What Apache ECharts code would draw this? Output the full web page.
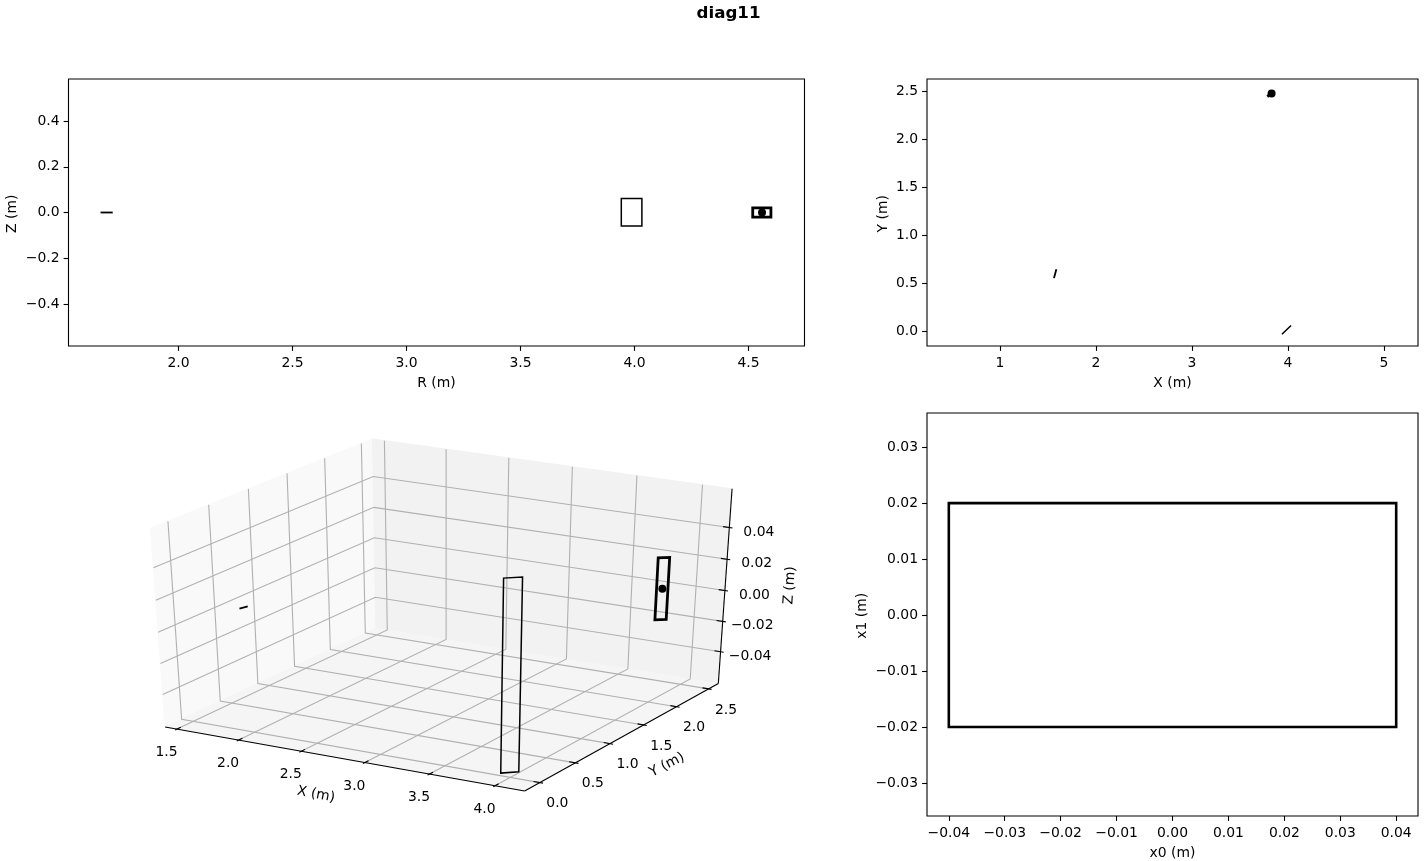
<!DOCTYPE html>
<html><head><meta charset="utf-8">
<style>html,body{margin:0;padding:0;background:#fff}#c{width:1428px;height:861px}</style>
<script src="https://cdn.jsdelivr.net/npm/echarts@6/dist/echarts.min.js"></script>
</head><body><div id="c"></div>
<script>
// ---------- data (metres) ----------
const titleText = 'diag11';
const apertureX = [3.942, 4.032, 4.032, 3.942, 3.942];
const apertureY = [-0.028, 0.057, 0.057, -0.028, -0.028];
const apertureZ = [-0.0587, -0.0587, 0.0613, 0.0613, -0.0587];
const detectorX = [3.796, 3.860, 3.860, 3.796, 3.796];
const detectorY = [2.451, 2.499, 2.499, 2.451, 2.451];
const detectorZ = [-0.02, -0.02, 0.02, 0.02, -0.02];
const detectorCentre = [3.829, 2.475, 0];
const stubX = [1.565, 1.585];
const stubY = [0.56, 0.635];
const stubZ = [0, 0];
const localX0 = [-0.04, 0.04, 0.04, -0.04, -0.04];
const localX1 = [-0.02, -0.02, 0.02, 0.02, -0.02];
// ticks
const rTicks = [2.0, 2.5, 3.0, 3.5, 4.0, 4.5];
const zTicks2d = [-0.4, -0.2, 0.0, 0.2, 0.4];
const xyXTicks = [1, 2, 3, 4, 5];
const xyYTicks = [0.0, 0.5, 1.0, 1.5, 2.0, 2.5];
const x0Ticks = [-0.04, -0.03, -0.02, -0.01, 0.0, 0.01, 0.02, 0.03, 0.04];
const x1Ticks = [-0.03, -0.02, -0.01, 0.0, 0.01, 0.02, 0.03];
const x3dTicks = [1.5, 2.0, 2.5, 3.0, 3.5, 4.0];
const y3dTicks = [0.0, 0.5, 1.0, 1.5, 2.0, 2.5];
const z3dTicks = [-0.04, -0.02, 0.0, 0.02, 0.04];
// axis limits
const rLim = [1.5175, 4.7456], zLim2d = [-0.584, 0.584];
const xyXLim = [0.24, 5.354], xyYLim = [-0.156, 2.625];
const x0Lim = [-0.0439, 0.0439], x1Lim = [-0.0359, 0.0361];
const xLim3 = [1.403, 4.223], yLim3 = [-0.21, 2.655], zLim3 = [-0.0613, 0.0639];

// ---------- 3D view: elev 30, azim -60, dist 10, unit cube stretched to the axes ----------
const U = [0.8660254, 0.5, 0], V = [-0.25, 0.4330127, 0.8660254], W = [0.4330127, -0.75, 0.5];
const SX = 4150, SY = 2270, CX = 446, CY = 609;
function proj(x, y, z) {
  const d = [(x - xLim3[0]) / (xLim3[1] - xLim3[0]) - .5,
             (y - yLim3[0]) / (yLim3[1] - yLim3[0]) - .5,
             (z - zLim3[0]) / (zLim3[1] - zLim3[0]) - .5];
  const dot = a => a[0] * d[0] + a[1] * d[1] + a[2] * d[2];
  const den = 10 - dot(W);
  return [CX + SX * dot(U) / den, CY - SY * dot(V) / den];
}
const [x0, x1] = xLim3, [y0, y1] = yLim3, [z0, z1] = zLim3;
const minus = s => s.replace('-', '\u2212');
const fmt = n => v => minus(Number(v).toFixed(n));
const FONT = 'DejaVu Sans', FS = 13.9;
const zip3 = (a, b, c) => a.map((v, i) => proj(v, b[i], c[i]));
const rOf = (a, b) => a.map((v, i) => Math.hypot(v, b[i]));
const pairs = (a, b) => a.map((v, i) => [v, b[i]]);

function xAxis(gridIndex, lim, ticks, digits, name, gap, margin) {
  return { type: 'value', gridIndex, min: lim[0], max: lim[1], name, nameLocation: 'middle', nameGap: gap,
    nameMoveOverlap: false, nameTextStyle: { color: '#000', fontFamily: FONT, fontSize: FS },
    splitLine: { show: false }, axisLine: { show: false, onZero: false },
    axisTick: { show: true, customValues: ticks, length: 4.9, lineStyle: { color: '#000', width: 1.1 } },
    axisLabel: { customValues: ticks, formatter: fmt(digits), color: '#000', fontFamily: FONT, fontSize: FS, margin: margin || 10 } };
}
function yAxis(gridIndex, lim, ticks, digits, name, gap) {
  const a = xAxis(gridIndex, lim, ticks, digits, name, gap, 9);
  a.nameRotate = 90;
  a.nameTextStyle.padding = [0, 2.5, 0, 0];
  a.axisLabel.padding = [2, 0, 0, 0];
  return a;
}
const lineS = (i, data, width) => ({ type: 'line', xAxisIndex: i, yAxisIndex: i, data, showSymbol: false, symbol: 'none',
  lineStyle: { color: '#000', width, join: 'miter', cap: 'square' }, silent: true, clip: true, z: 5 });
const dotS = (i, p) => ({ type: 'scatter', xAxisIndex: i, yAxisIndex: i, data: [p], symbolSize: 8, itemStyle: { color: '#000', opacity: 1 }, silent: true, z: 6 });

// custom series in the page-sized hidden grid (index 3)
function shapes(name, list, kind, style, z) {
  return { type: 'custom', name, xAxisIndex: 3, yAxisIndex: 3, coordinateSystem: 'cartesian2d', silent: true, z, clip: false,
    data: list.map((_, i) => [i, 0]),
    renderItem: (p, api) => ({ type: kind,
      shape: { points: list[api.value(0)].map(q => api.coord(q)) }, style }) };
}
function texts(name, list, z) {
  return { type: 'custom', name, xAxisIndex: 3, yAxisIndex: 3, silent: true, z: z || 8, clip: false,
    data: list.map((_, i) => [i, 0]),
    renderItem: (p, api) => { const t = list[api.value(0)], c = api.coord([t.x, t.y]);
      return { type: 'text', x: c[0], y: c[1], rotation: (t.rot || 0) * Math.PI / 180,
        style: { text: t.s, fill: '#000', font: FS + 'px "' + FONT + '"', align: 'center', verticalAlign: 'middle' } }; } };
}
const paneX = [proj(x0,y0,z0), proj(x0,y1,z0), proj(x0,y1,z1), proj(x0,y0,z1)];
const paneY = [proj(x0,y1,z0), proj(x1,y1,z0), proj(x1,y1,z1), proj(x0,y1,z1)];
const paneZ = [proj(x0,y0,z0), proj(x1,y0,z0), proj(x1,y1,z0), proj(x0,y1,z0)];
const grid3 = [
  ...x3dTicks.map(t => [proj(t,y0,z0), proj(t,y1,z0), proj(t,y1,z1)]),
  ...y3dTicks.map(t => [proj(x1,t,z0), proj(x0,t,z0), proj(x0,t,z1)]),
  ...z3dTicks.map(t => [proj(x0,y0,t), proj(x0,y1,t), proj(x1,y1,t)])
];
const axes3 = [[proj(x0,y0,z0), proj(x1,y0,z0)], [proj(x1,y0,z0), proj(x1,y1,z0)], [proj(x1,y1,z0), proj(x1,y1,z1)]];
const dy = y1 - y0, dx = x1 - x0;
const ticks3 = [
  ...x3dTicks.map(t => [proj(t, y0 + dy*0.017, z0), proj(t, y0 - dy*0.0085, z0)]),
  ...y3dTicks.map(t => [proj(x1 - dx*0.017, t, z0), proj(x1 + dx*0.0085, t, z0)]),
  ...z3dTicks.map(t => [proj(x1 - dx*0.017, y1, t), proj(x1 + dx*0.0085, y1, t)])
];
const labels3 = [
  ...x3dTicks.map(t => { const p = proj(t,y0,z0); return { s: t.toFixed(1), x: p[0]-10.5, y: p[1]+23.5 }; }),
  ...y3dTicks.map(t => { const p = proj(x1,t,z0); return { s: t.toFixed(1), x: p[0]+17.5, y: p[1]+21 }; }),
  ...z3dTicks.map(t => { const p = proj(x1,y1,t); return { s: minus(t.toFixed(2)), x: p[0]+29.5, y: p[1]+4.5 }; }),
  { s: 'X (m)', x: 316, y: 794.5, rot: -11 },
  { s: 'Y (m)', x: 667, y: 765, rot: 27 },
  { s: 'Z (m)', x: 790, y: 585.5, rot: 86 }
];

const noBounds = { show: true, borderColor: '#000', borderWidth: 1.1, backgroundColor: 'transparent', outerBoundsMode: 'none' };
const option = {
  animation: false, backgroundColor: '#fff', textStyle: { fontFamily: FONT },
  title: { text: titleText, left: 723.5, top: 0, textAlign: 'center', textStyle: { fontFamily: FONT, fontSize: 16.67, fontWeight: 'bold', color: '#000' } },
  grid: [
    { left: 68.5, top: 79, width: 736, height: 267, ...noBounds },
    { left: 927, top: 79, width: 491, height: 267, ...noBounds },
    { left: 927, top: 413, width: 491, height: 403, ...noBounds },
    { left: 0, top: 0, width: 1428, height: 861, show: false, outerBoundsMode: 'none' }
  ],
  xAxis: [
    xAxis(0, rLim, rTicks, 1, 'R (m)', 30),
    xAxis(1, xyXLim, xyXTicks, 0, 'X (m)', 30),
    xAxis(2, x0Lim, x0Ticks, 2, 'x0 (m)', 30),
    { type: 'value', gridIndex: 3, min: 0, max: 1428, show: false }
  ],
  yAxis: [
    yAxis(0, zLim2d, zTicks2d, 1, 'Z (m)', 49),
    yAxis(1, xyYLim, xyYTicks, 1, 'Y (m)', 37),
    yAxis(2, x1Lim, x1Ticks, 2, 'x1 (m)', 58),
    { type: 'value', gridIndex: 3, min: 0, max: 861, inverse: true, show: false }
  ],
  series: [
    lineS(0, pairs(rOf(apertureX, apertureY), apertureZ), 1.5),
    lineS(0, pairs(rOf(detectorX, detectorY), detectorZ), 2.8),
    lineS(0, pairs(rOf(stubX, stubY), stubZ), 1.8),
    dotS(0, [Math.hypot(detectorCentre[0], detectorCentre[1]), detectorCentre[2]]),
    lineS(1, pairs(apertureX, apertureY), 1.5),
    lineS(1, pairs(detectorX, detectorY), 2.8),
    lineS(1, pairs(stubX, stubY), 1.8),
    dotS(1, [detectorCentre[0], detectorCentre[1]]),
    lineS(2, pairs(localX0, localX1), 2.6),
    shapes('paneX', [paneX], 'polygon', { fill: '#f9f9f9', stroke: '#f9f9f9', lineWidth: 1 }, 1),
    shapes('paneY', [paneY], 'polygon', { fill: '#f2f2f2', stroke: '#f2f2f2', lineWidth: 1 }, 1),
    shapes('paneZ', [paneZ], 'polygon', { fill: '#f5f5f5', stroke: '#f5f5f5', lineWidth: 1 }, 1),
    shapes('grid3d', grid3, 'polyline', { fill: 'none', stroke: '#b0b0b0', lineWidth: 1.1 }, 2),
    shapes('axes3d', axes3, 'polyline', { fill: 'none', stroke: '#000', lineWidth: 1.1 }, 3),
    shapes('ticks3d', ticks3, 'polyline', { fill: 'none', stroke: '#000', lineWidth: 1.1 }, 3),
    shapes('aperture3d', [zip3(apertureX, apertureY, apertureZ)], 'polyline', { fill: 'none', stroke: '#000', lineWidth: 1.5, lineJoin: 'miter', lineCap: 'square' }, 4),
    shapes('detector3d', [zip3(detectorX, detectorY, detectorZ)], 'polyline', { fill: 'none', stroke: '#000', lineWidth: 2.8, lineJoin: 'miter', lineCap: 'square' }, 4),
    shapes('stub3d', [zip3(stubX, stubY, stubZ)], 'polyline', { fill: 'none', stroke: '#000', lineWidth: 1.8 }, 4),
    { type: 'scatter', xAxisIndex: 3, yAxisIndex: 3, data: [proj(...detectorCentre)], symbolSize: 8, itemStyle: { color: '#000', opacity: 1 }, silent: true, z: 5 },
    texts('labels3d', labels3)
  ]
};
echarts.init(document.getElementById('c'), null, { renderer: 'canvas' }).setOption(option);
</script></body></html>
